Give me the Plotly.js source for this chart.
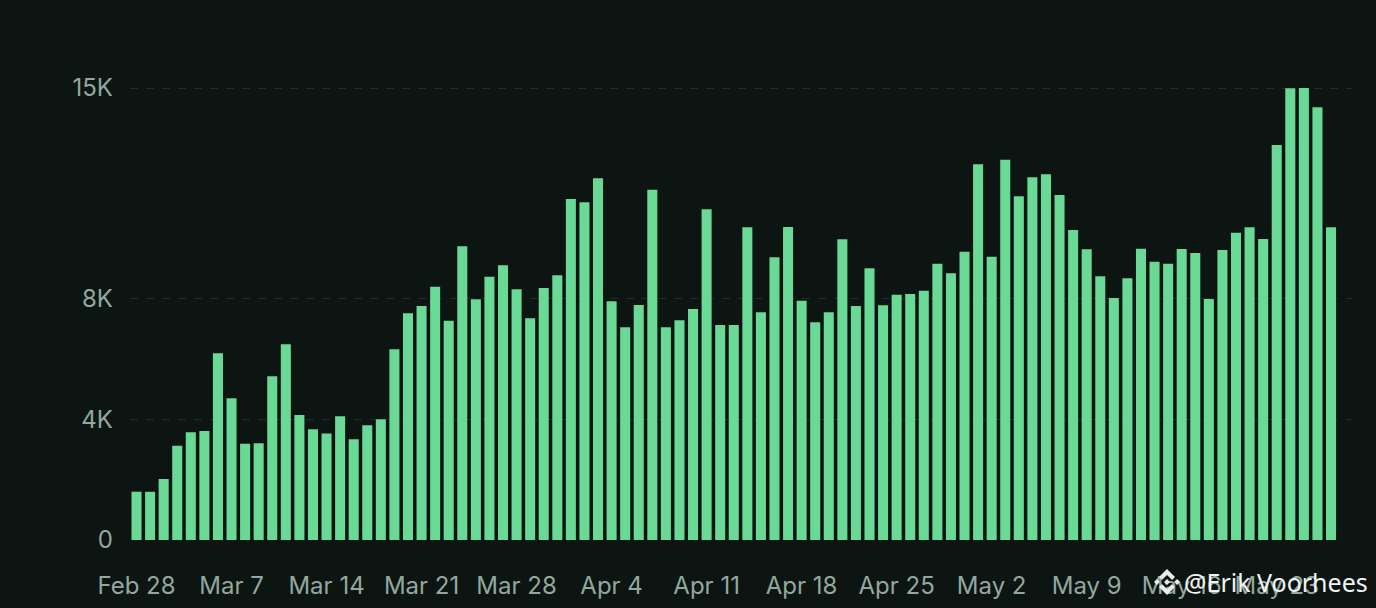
<!DOCTYPE html>
<html>
<head>
<meta charset="utf-8">
<script src="https://cdn.plot.ly/plotly-3.0.1.min.js"></script>
<style>html,body{margin:0;padding:0;background:#0c1511;}#chart{width:1376px;height:608px;}</style>
</head>
<body>
<div id="chart"></div>
<script>
const dates = [
"2025-02-28","2025-03-01","2025-03-02","2025-03-03","2025-03-04","2025-03-05","2025-03-06","2025-03-07","2025-03-08","2025-03-09",
"2025-03-10","2025-03-11","2025-03-12","2025-03-13","2025-03-14","2025-03-15","2025-03-16","2025-03-17","2025-03-18","2025-03-19",
"2025-03-20","2025-03-21","2025-03-22","2025-03-23","2025-03-24","2025-03-25","2025-03-26","2025-03-27","2025-03-28","2025-03-29",
"2025-03-30","2025-03-31","2025-04-01","2025-04-02","2025-04-03","2025-04-04","2025-04-05","2025-04-06","2025-04-07","2025-04-08",
"2025-04-09","2025-04-10","2025-04-11","2025-04-12","2025-04-13","2025-04-14","2025-04-15","2025-04-16","2025-04-17","2025-04-18",
"2025-04-19","2025-04-20","2025-04-21","2025-04-22","2025-04-23","2025-04-24","2025-04-25","2025-04-26","2025-04-27","2025-04-28",
"2025-04-29","2025-04-30","2025-05-01","2025-05-02","2025-05-03","2025-05-04","2025-05-05","2025-05-06","2025-05-07","2025-05-08",
"2025-05-09","2025-05-10","2025-05-11","2025-05-12","2025-05-13","2025-05-14","2025-05-15","2025-05-16","2025-05-17","2025-05-18",
"2025-05-19","2025-05-20","2025-05-21","2025-05-22","2025-05-23","2025-05-24","2025-05-25","2025-05-26","2025-05-27"];
const values = [
1603,1600,2024,3129,3574,3617,6196,4702,3196,3209,
5432,6494,4148,3674,3534,4105,3342,3806,4005,6329,
7523,7766,8406,7278,9747,7988,8738,9116,8320,7357,
8363,8784,11316,11207,12003,7921,7059,7799,11625,7059,
7291,7666,10975,7135,7135,10377,7556,9382,10387,7941,
7225,7556,9979,7766,9017,7789,8141,8164,8273,9169,
8851,9568,12468,9402,12621,11406,12036,12136,11449,10288,
9647,8751,8031,8685,9667,9236,9169,9657,9524,7998,
9624,10198,10377,9989,13108,14990,15000,14360,10377];
const xTickVals = ["2025-02-28","2025-03-07","2025-03-14","2025-03-21","2025-03-28","2025-04-04","2025-04-11","2025-04-18","2025-04-25","2025-05-02","2025-05-09","2025-05-16","2025-05-23"];
const xTickText = ["Feb 28","Mar 7","Mar 14","Mar 21","Mar 28","Apr 4","Apr 11","Apr 18","Apr 25","May 2","May 9","May 16","May 23"];
const yTickVals = [0,4000,8000,15000];
const yTickText = ["0","4K","8K","15K"];
const watermark = "@Erik Voorhees";

const logoSvg = '<svg xmlns="http://www.w3.org/2000/svg" viewBox="0 0 126.61 126.61"><path fill="#e8ecea" d="M38.73 53.2l24.59-24.58 24.6 24.6 14.3-14.31L63.32 0 24.41 38.9zM0 63.31l14.3-14.31 14.31 14.31-14.31 14.3zM38.73 73.41l24.59 24.59 24.6-24.6 14.31 14.29-38.9 38.91-38.91-38.88-.02-.02zM98.01 63.31l14.3-14.31 14.31 14.3-14.31 14.32zM77.83 63.3l-14.51-14.52-10.73 10.73-1.24 1.23-2.54 2.54 14.51 14.5 14.51-14.47z"/></svg>';

const L = 130, R = 24, T = 78, B = 68, W = 1376, H = 608;
const px = x => (x - L) / (W - L - R);
const py = y => 1 - (y - T) / (H - T - B);
const tickFont = {family: "Inter, 'Noto Sans', sans-serif", size: 24, color: "#92a89f"};

Plotly.newPlot("chart", [{
  type: "bar",
  x: dates,
  y: values,
  marker: {color: "#69d995", line: {width: 0}},
  hoverinfo: "x+y"
}], {
  width: W, height: H,
  margin: {l: L, r: R, t: T, b: B, pad: 0},
  paper_bgcolor: "#0c1511",
  plot_bgcolor: "#0c1511",
  bargap: 0.26,
  showlegend: false,
  xaxis: {
    type: "date",
    range: ["2025-02-27 12:29", "2025-05-28 13:06"],
    tickmode: "array",
    tickvals: xTickVals,
    ticktext: xTickText,
    tickangle: 0,
    tickfont: tickFont,
    ticks: "",
    ticklabelstandoff: 29,
    showgrid: false,
    showline: false,
    zeroline: false
  },
  yaxis: {
    range: [0, 15000 * 462 / 452],
    tickmode: "array",
    tickvals: yTickVals,
    ticktext: yTickText,
    tickfont: tickFont,
    ticks: "",
    ticklabelstandoff: 16,
    showgrid: true,
    gridcolor: "#212d28",
    gridwidth: 1,
    griddash: "8px,8px",
    showline: false,
    zeroline: false
  },
  images: [{
    source: "data:image/svg+xml;utf8," + encodeURIComponent(logoSvg),
    xref: "paper", yref: "paper",
    x: px(1154), y: py(569),
    sizex: 26 / (W - L - R), sizey: 26 / (H - T - B),
    sizing: "stretch", xanchor: "left", yanchor: "top", layer: "above"
  }],
  annotations: [{
    text: watermark,
    xref: "paper", yref: "paper",
    x: px(1370), y: py(582),
    xanchor: "right", yanchor: "middle",
    showarrow: false,
    font: {family: "'Noto Sans', 'Open Sans', sans-serif", size: 25, color: "#f2f4f3"}
  }]
}, {displayModeBar: false, staticPlot: true});
</script>
</body>
</html>
